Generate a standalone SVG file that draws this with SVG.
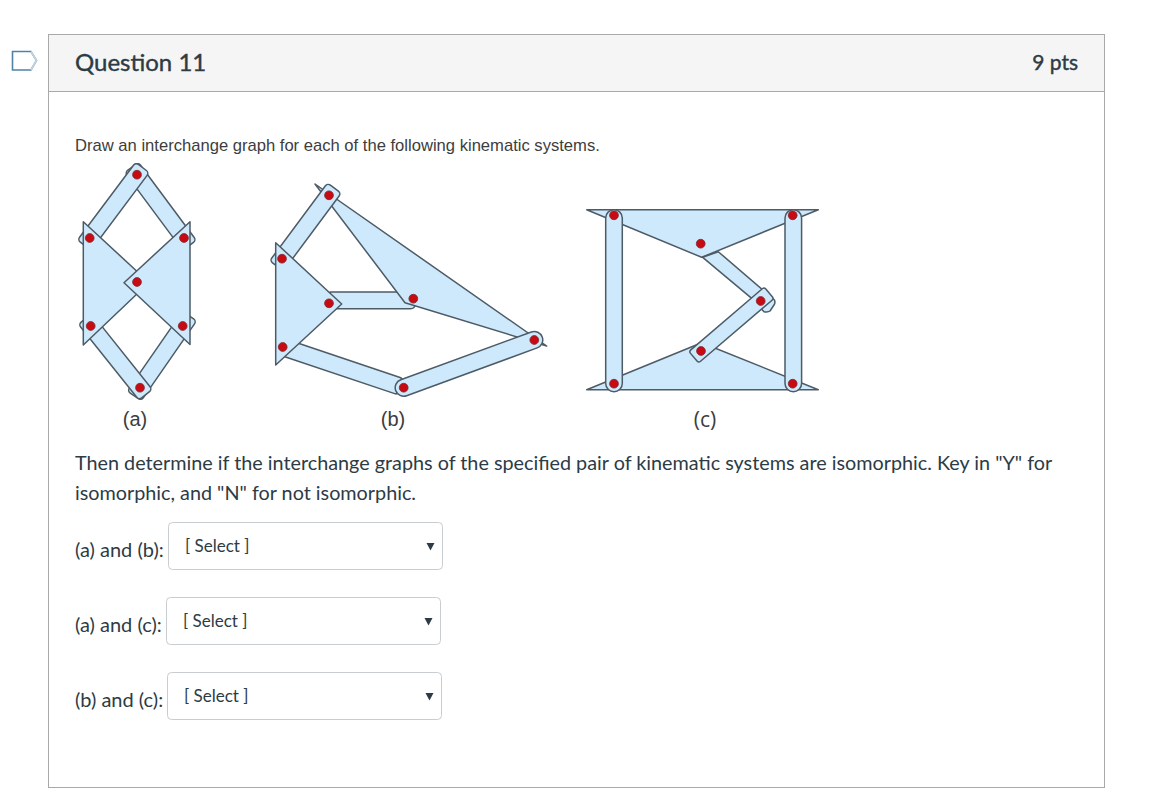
<svg xmlns="http://www.w3.org/2000/svg" width="1157" height="810" viewBox="0 0 1157 810">
<defs><style>
.s{fill:#cde9fb;stroke:#4d5b66;stroke-width:1.5;stroke-linejoin:round}
.j{fill:#c90a12;stroke:#7a2b2e;stroke-width:.8}
.t{font-family:Lato,"Liberation Sans",sans-serif;font-size:19.8px;fill:#2d3b45}
.l{font-family:Lato,"Liberation Sans",sans-serif;font-size:20px;fill:#2d3b45}
.h{font-family:Lato,"Liberation Sans",sans-serif;fill:#2d3b45;stroke:#2d3b45;stroke-width:.4}
.f{font-family:"Liberation Sans",Arial,sans-serif;fill:#3d3d3d}
.c{font-family:"Open Sans","Liberation Sans",sans-serif;fill:#3d3d3d;font-size:21px}
.b{fill:#fff;stroke:#c7cdd1;stroke-width:1}
.v{font-family:Lato,"Liberation Sans",sans-serif;font-size:17px;fill:#2d3b45}
.a{fill:#2d3b45}
</style>
<circle id="p" class="j" r="4.400"/>
</defs>
<rect width="1157" height="810" fill="#fff"/>
<g id="tag"><path d="M12.500 51.500H31L36.500 60.500L31 70H12.500Z" fill="#fff" stroke="#4f83a6" stroke-width="1.600"/><path d="M31 51.500L36.500 60.500L31 70" fill="none" stroke="#c5d5e0" stroke-width="1.600"/></g>
<g id="card">
<rect x="48.500" y="34.500" width="1056" height="753" fill="#fff" stroke="#a9a9a9"/>
<rect x="48.500" y="34.500" width="1056" height="57" fill="#f5f5f5" stroke="#a9a9a9"/>
<text class="h" x="75" y="71" font-size="24px">Question 11</text>
<text class="h" x="1078" y="70" text-anchor="end" font-size="21px">9 pts</text>
<text class="f" x="75" y="151" font-size="16.600px">Draw an interchange graph for each of the following kinematic systems.</text>
</g>
<g id="mechanism-a">
<rect class="s" x="-9" y="-8.500" width="97" height="17" rx="3.500" transform="translate(137,174.700) rotate(53.400)"/>
<rect class="s" x="-9" y="-8.500" width="97" height="17" rx="3.500" transform="translate(137,174.700) rotate(126.800)"/>
<rect class="s" x="-12" y="-8.500" width="97" height="17" rx="3.500" transform="translate(182.700,326) rotate(124.700)"/>
<rect class="s" x="-9" y="-8.500" width="97" height="17" rx="3.500" transform="translate(90.700,326) rotate(51.400)"/>
<path class="s" d="M83.300 221.700L149 282.500L83.300 345Z"/>
<path class="s" d="M190 221.700V344.500L124 282.700Z"/>
<use href="#p" x="137" y="174.700"/><use href="#p" x="89.700" y="238"/><use href="#p" x="184" y="238"/><use href="#p" x="137" y="282"/><use href="#p" x="90.700" y="326"/><use href="#p" x="182.700" y="326"/><use href="#p" x="140" y="387.700"/>
<text class="f" x="135" y="426" text-anchor="middle" font-size="20px">(a)</text>
</g>
<g id="mechanism-b">
<path class="s" d="M330 292H414V301Q417 308.700 410 308.700H330Z"/>
<path class="s" d="M315 184L546.700 346L405 302.700Z"/>
<rect class="s" x="-9" y="-8.500" width="97" height="17" rx="3.500" transform="translate(329,195.300) rotate(126.600)"/>
<rect class="s" x="-5" y="-8.500" width="129" height="17" rx="3" transform="translate(282.700,347) rotate(18.600)"/>
<path class="s" d="M275.700 242.700L341.700 304L275.700 365Z"/>
<rect class="s" x="-8.500" y="-8.500" width="156" height="17" rx="8.500" transform="translate(403.700,387.700) rotate(-20.100)"/>
<use href="#p" x="329" y="195.300"/><use href="#p" x="282" y="258.700"/><use href="#p" x="329" y="303.300"/><use href="#p" x="282.700" y="347"/><use href="#p" x="403.700" y="387.700"/><use href="#p" x="534.300" y="340"/><use href="#p" x="413.300" y="298.700"/>
<text class="f" x="393" y="426" text-anchor="middle" font-size="20px">(b)</text>
</g>
<g id="mechanism-c">
<path class="s" d="M586.700 209.700H818.300L701.700 257.300Z"/>
<path class="s" d="M586.700 389.700H818.300L701.700 342.700Z"/>
<rect class="s" x="605.700" y="209.700" width="16.600" height="182" rx="8.300"/>
<rect class="s" x="785" y="209.700" width="16.600" height="182" rx="8.300"/>
<path class="s" d="M702.700 257.300L718.300 251.700L774.500 300Q775.500 303 774 305L770 311Q768 312.500 764 311.700L751.700 298.300Z"/>
<rect class="s" x="-9.500" y="-7.500" width="99" height="15" rx="2.500" transform="translate(701,351) rotate(-40.500)"/>
<use href="#p" x="614" y="215.300"/><use href="#p" x="792.700" y="215.300"/><use href="#p" x="700.700" y="243.700"/><use href="#p" x="760.700" y="301"/><use href="#p" x="701" y="351"/><use href="#p" x="614" y="383.700"/><use href="#p" x="792.700" y="383.700"/>
<text class="c" x="705" y="427" text-anchor="middle">(c)</text>
</g>
<g id="prompt">
<text class="t" x="75" y="470">Then determine if the interchange graphs of the specified pair of kinematic systems are isomorphic. Key in "Y" for</text>
<text class="t" x="75" y="500">isomorphic, and "N" for not isomorphic.</text>
</g>
<g id="row-ab">
<text class="l" x="75" y="557">(a) and (b):</text>
<rect class="b" x="168.500" y="522.500" width="274" height="47" rx="4"/>
<text class="v" x="185" y="552">[ Select ]</text>
<path class="a" d="M426.500 543H434.500L430.500 550.500Z"/>
</g>
<g id="row-ac">
<text class="l" x="75" y="632">(a) and (c):</text>
<rect class="b" x="166.500" y="597.500" width="274" height="47" rx="4"/>
<text class="v" x="183" y="627">[ Select ]</text>
<path class="a" d="M424.500 618H432.500L428.500 625.500Z"/>
</g>
<g id="row-bc">
<text class="l" x="75" y="707">(b) and (c):</text>
<rect class="b" x="167.500" y="672.500" width="274" height="47" rx="4"/>
<text class="v" x="184" y="702">[ Select ]</text>
<path class="a" d="M425.500 693H433.500L429.500 700.500Z"/>
</g>
</svg>
